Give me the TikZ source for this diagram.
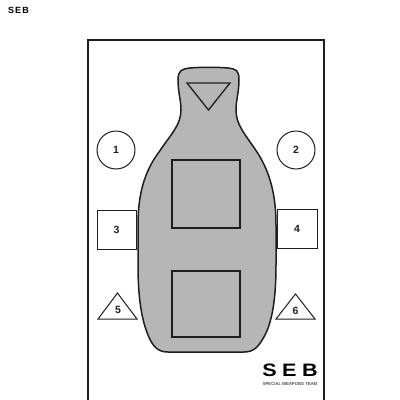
\documentclass[tikz,border=0pt]{standalone}
\usepackage{fontspec}
\setmainfont{Liberation Sans}
\definecolor{bodygray}{RGB}{182,182,182}
\definecolor{ink}{RGB}{30,30,30}
\begin{document}
\begin{tikzpicture}[x=1pt,y=-1pt,
  shapeline/.style={draw=ink,line width=1.3pt},
  sideline/.style={draw=ink,line width=1pt},
  numlabel/.style={font=\fontsize{10.5}{12}\selectfont\bfseries,text=ink,inner sep=0pt}]
\useasboundingbox (0,0) rectangle (400,400);
\clip (0,0) rectangle (400,400);
% top-left label
\node[font=\fontsize{9}{10}\selectfont\bfseries,inner sep=0pt] (toplabel) at (18.5,10) {S\hspace{1pt}E\hspace{1pt}B};
% outer sheet
\draw[ink,line width=1.6pt] (88,402) -- (88,40) -- (324,40) -- (324,402);
% silhouette
\draw[fill=bodygray,draw=ink,line width=1.5pt]
  (178,80) .. controls (178,70) and (182,69) .. (190,68)
  .. controls (200,67) and (217,67) .. (228,68)
  .. controls (236,69) and (239,70) .. (239,80)
  .. controls (239,92) and (236,100) .. (236,110)
  .. controls (236,125) and (245,134) .. (257,152)
  .. controls (270,172) and (276,195) .. (276,225)
  -- (276,265)
  .. controls (276,295) and (273,318) .. (266,333)
  .. controls (259,347) and (254,352) .. (244,352)
  -- (168,352)
  .. controls (158,352) and (153,347) .. (148,335)
  .. controls (141,318) and (138,295) .. (138,265)
  -- (138,225)
  .. controls (138,195) and (144,172) .. (159,152)
  .. controls (171,134) and (181,125) .. (181,110)
  .. controls (181,100) and (178,92) .. (178,80) -- cycle;
% head triangle and body squares
\draw[shapeline] (187,83) -- (230,83) -- (208.5,110) -- cycle;
\draw[shapeline] (172,160) rectangle (240,228);
\draw[shapeline] (172,271) rectangle (240,337);
% side targets
\node[sideline,circle,minimum size=38pt,inner sep=0pt] (c1) at (116,150) {};
\node[numlabel] (n1) at (c1) {1};
\node[sideline,circle,minimum size=38pt,inner sep=0pt] (c2) at (296,150) {};
\node[numlabel] (n2) at (c2) {2};
\node[sideline,rectangle,minimum width=39pt,minimum height=39pt,inner sep=0pt] (s3) at (116.5,229.5) {};
\node[numlabel] (n3) at (s3) {3};
\node[sideline,rectangle,minimum width=40pt,minimum height=39pt,inner sep=0pt] (s4) at (297,228.5) {};
\node[numlabel] (n4) at (s4) {4};
\draw[sideline] (98,319) -- (137,319) -- (117.5,293) -- cycle;
\node[numlabel] (n5) at (118,310) {5};
\draw[sideline] (276,319) -- (315,319) -- (295.5,294) -- cycle;
\node[numlabel] (n6) at (295.5,310.5) {6};
% logo
\node[font=\fontsize{18}{20}\selectfont\bfseries,inner sep=0pt] (logo) at (290,370)
  {\scalebox{1.2}[1]{S\hspace{4.5pt}E\hspace{4.5pt}B}};
\node[font=\fontsize{4.3}{5}\selectfont,inner sep=0pt] (team) at (290,384.5) {SPECIAL WEAPONS TEAM};
\end{tikzpicture}
\end{document}
